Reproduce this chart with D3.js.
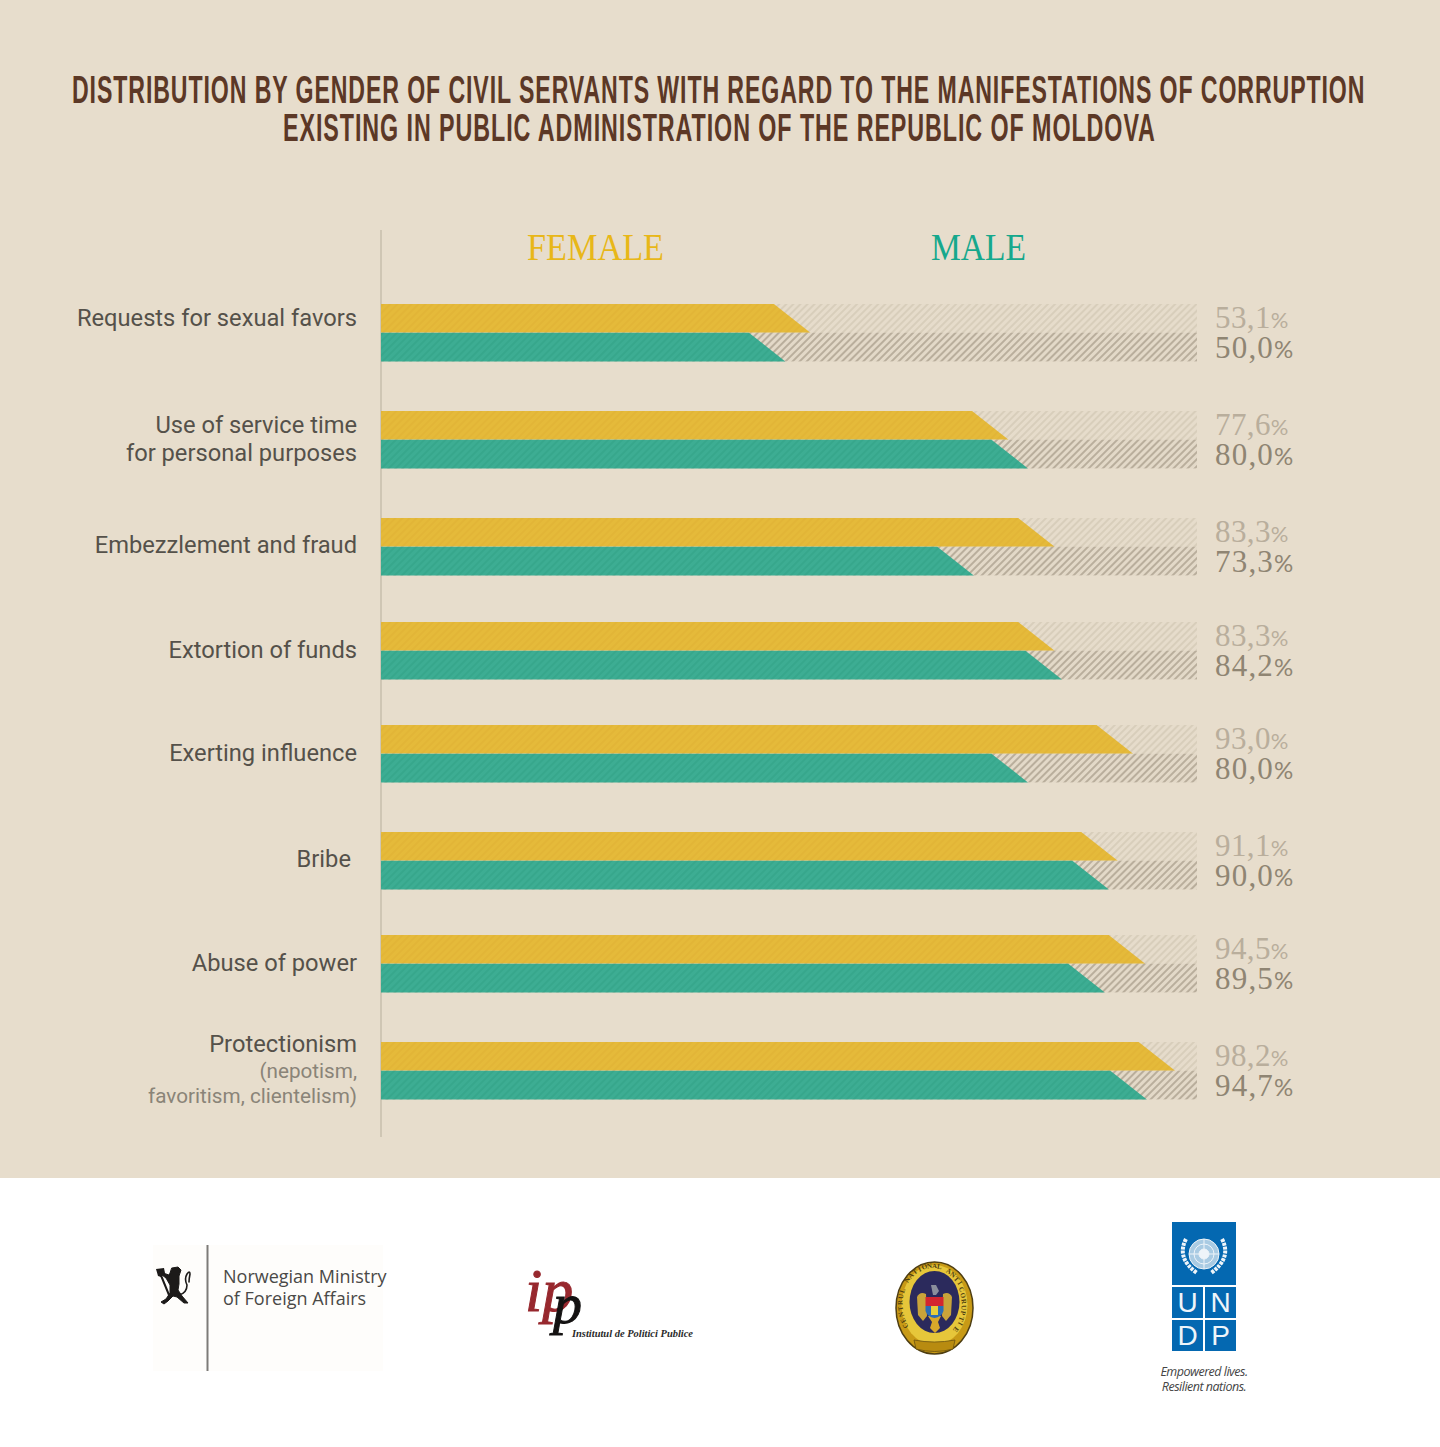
<!DOCTYPE html>
<html>
<head>
<meta charset="utf-8">
<script src="https://cdn.jsdelivr.net/npm/d3@7"></script>
<style>
  html, body { margin: 0; padding: 0; background: #fff; }
  svg { display: block; }
</style>
</head>
<body>
<div id="chart"></div>
<script>
// Chart values
const categories = ['Requests for sexual favors', 'Use of service time for personal purposes', 'Embezzlement and fraud', 'Extortion of funds', 'Exerting influence', 'Bribe', 'Abuse of power', 'Protectionism'];
const femaleValues = [53.1, 77.6, 83.3, 83.3, 93.0, 91.1, 94.5, 98.2];
const maleValues = [50.0, 80.0, 73.3, 84.2, 80.0, 90.0, 89.5, 94.7];
const seriesNames = ['FEMALE', 'MALE'];
const titleLines = [
    'DISTRIBUTION BY GENDER OF CIVIL SERVANTS WITH REGARD TO THE MANIFESTATIONS OF CORRUPTION',
    'EXISTING IN PUBLIC ADMINISTRATION OF THE REPUBLIC OF MOLDOVA'
];
const labelLines = [
    ['Requests for sexual favors'],
    ['Use of service time', 'for personal purposes'],
    ['Embezzlement and fraud'],
    ['Extortion of funds'],
    ['Exerting influence'],
    ['Bribe'],
    ['Abuse of power'],
    ['Protectionism']
];
const subLabelLines = ['(nepotism,', 'favoritism, clientelism)'];

const width = 1440, height = 1447;
const barH = 28.7;
const slant = 36.5;
const gold = '#e5ba3a', teal = '#3dad93', beige = '#e7ddcc';

const svg = d3.select('#chart').append('svg').attr('width', width).attr('height', height);

// Stripe patterns for bars and the empty tracks
const defs = svg.append('defs');
const addStripes = (id, base, stripe, w) => {
    const p = defs.append('pattern')
        .attr('id', id)
        .attr('patternUnits', 'userSpaceOnUse')
        .attr('width', 5).attr('height', 5)
        .attr('patternTransform', 'rotate(45)');
    p.append('rect').attr('width', 5).attr('height', 5).attr('fill', base);
    p.append('rect').attr('width', w).attr('height', 5).attr('fill', stripe);
};
addStripes('goldStripes', gold, '#e2b537', 2);
addStripes('tealStripes', teal, '#37a78c', 2);
addStripes('trackLight', '#e6dccb', '#d8cebb', 2);
addStripes('trackDark', '#e3d9c8', '#b9ae9c', 2);

svg.append('rect').attr('width', width).attr('height', 1178).attr('fill', beige);

// Scales
const xScale = d3.scaleLinear().domain([0, 100.9]).range([381, 1197]);
const yScale = d3.scaleOrdinal()
    .domain(categories)
    .range([304, 411, 518, 622, 725, 832, 935, 1042]);

// Title: squeeze horizontally to the measured width of each line
svg.selectAll('.title')
    .data(titleLines)
    .enter()
    .append('text')
    .attr('class', 'title')
    .style('font-family', '"Liberation Sans Narrow", "Liberation Sans", sans-serif')
    .style('font-weight', '700')
    .style('font-size', '38px')
    .style('letter-spacing', '1.5px')
    .style('fill', '#5c3826')
    .text(d => d)
    .attr('transform', function(d, i) {
        const target = i === 0 ? 1294 : 873;
        const left = i === 0 ? 72 : 283;
        return `translate(${left},${102.5 + i * 38}) scale(${target / this.getComputedTextLength()},1)`;
    });

// Axis line
svg.append('line')
    .attr('x1', 381).attr('x2', 381)
    .attr('y1', 230).attr('y2', 1137)
    .attr('stroke', '#cfc6b4')
    .attr('stroke-width', 2);

// Legend
svg.selectAll('.legend')
    .data(seriesNames)
    .enter()
    .append('text')
    .attr('class', 'legend')
    .attr('x', (d, i) => [527, 931][i])
    .attr('y', 260)
    .attr('textLength', (d, i) => [137, 95][i])
    .attr('lengthAdjust', 'spacingAndGlyphs')
    .style('font-family', '"Liberation Serif", serif')
    .style('font-size', '37px')
    .style('fill', (d, i) => ['#e8b718', '#16a88c'][i])
    .text(d => d);

// Rows
const series = [
    { values: femaleValues, fill: 'url(#goldStripes)', track: 'url(#trackLight)', offset: 0, text: '#b9ae9c', base: 24, spacing: '0.4px', pct: '22px' },
    { values: maleValues, fill: 'url(#tealStripes)', track: 'url(#trackDark)', offset: barH, text: '#8f8573', base: 54, spacing: '1.2px', pct: '24px' }
];

series.forEach(s => {
    const g = svg.append('g');

    g.selectAll('.track')
        .data(categories)
        .enter()
        .append('rect')
        .attr('class', 'track')
        .attr('x', xScale(0))
        .attr('y', d => yScale(d) + s.offset)
        .attr('width', xScale.range()[1] - xScale(0))
        .attr('height', barH)
        .attr('fill', s.track);

    // Bars end in a slant, the value sits at the bottom tip
    g.selectAll('.bar')
        .data(categories)
        .enter()
        .append('path')
        .attr('class', 'bar')
        .attr('fill', s.fill)
        .attr('d', (d, i) => {
            const y0 = yScale(d) + s.offset;
            const tip = xScale(s.values[i]);
            return `M${xScale(0)},${y0}H${tip - slant}L${tip},${y0 + barH}H${xScale(0)}Z`;
        });

    const labels = g.selectAll('.value')
        .data(categories)
        .enter()
        .append('text')
        .attr('class', 'value')
        .attr('x', 1215)
        .attr('y', d => yScale(d) + s.base)
        .style('font-family', '"Liberation Serif", serif')
        .style('font-size', '31px')
        .style('letter-spacing', s.spacing)
        .style('fill', s.text);

    labels.append('tspan')
        .text((d, i) => s.values[i].toFixed(1).replace('.', ','));
    labels.append('tspan')
        .style('font-size', s.pct)
        .style('font-family', '"Lato", sans-serif')
        .text('%');
});

// Category labels
const labelBaseline = [326, 433, 553, 658, 761, 867, 971, 1052];
categories.forEach((c, i) => {
    labelLines[i].forEach((line, j) => {
        svg.append('text')
            .attr('x', c === 'Bribe' ? 351 : 357)
            .attr('y', labelBaseline[i] + j * 28)
            .attr('text-anchor', 'end')
            .style('font-family', 'Roboto, sans-serif')
            .style('font-size', '23.7px')
            .style('fill', '#55514a')
            .text(line);
    });
});
subLabelLines.forEach((line, j) => {
    svg.append('text')
        .attr('x', 357)
        .attr('y', 1078 + j * 25)
        .attr('text-anchor', 'end')
        .style('font-family', 'Roboto, sans-serif')
        .style('font-size', '20.7px')
        .style('fill', '#8a8478')
        .text(line);
});

// Logos along the bottom, drawn by hand
const logos = svg.append('g');

// Norway
logos.append('rect').attr('x', 153).attr('y', 1245).attr('width', 230).attr('height', 126).attr('fill', '#fefdfb');
logos.append('line').attr('x1', 207.5).attr('x2', 207.5).attr('y1', 1245).attr('y2', 1371).attr('stroke', '#7d7b78').attr('stroke-width', 2);
const lion = logos.append('g').attr('fill', 'none').attr('stroke', '#1c1a19').attr('stroke-linecap', 'round');
lion.append('path').attr('stroke-width', 2).attr('d', 'M160,1273L169,1295');
lion.append('path').attr('fill', '#1c1a19').attr('stroke', 'none').attr('d', 'M156,1269l8,-1l1,5l-4,4l-3,-1z');
lion.append('path').attr('fill', '#1c1a19').attr('stroke-width', 1).attr('d', 'M172,1268l6,-1l3,3l-2,6l0,8l-1,6l4,6l6,7l-4,0l-7,-6l-4,-1l-5,5l-4,3l-3,-2l5,-3l4,-6l0,-8l-4,-7l-4,-3l1,-2l6,2z');
lion.append('path').attr('stroke-width', 1.6).attr('d', 'M179,1295q8,-2 8,-10q-3,-6 0,-11q3,-4 3,0q-1,5 -1,8');

['Norwegian Ministry', 'of Foreign Affairs'].forEach((t, i) => {
    logos.append('text')
        .attr('x', 223).attr('y', 1283 + i * 22)
        .style('font-family', '"Open Sans", sans-serif')
        .style('font-size', '18px')
        .style('fill', '#4a4947')
        .text(t);
});

// IPP
logos.append('text').attr('x', 525).attr('y', 1311)
    .attr('stroke', '#97282e').attr('stroke-width', 1)
    .style('font-family', '"Liberation Serif", serif').style('font-style', 'italic')
    .style('font-size', '62px').style('fill', '#97282e').text('ip');
logos.append('text').attr('x', 553).attr('y', 1323)
    .attr('stroke', '#141212').attr('stroke-width', 1)
    .style('font-family', '"Liberation Serif", serif').style('font-style', 'italic')
    .style('font-size', '58px').style('fill', '#141212').text('p');
logos.append('text').attr('x', 572).attr('y', 1337)
    .attr('textLength', 121).attr('lengthAdjust', 'spacingAndGlyphs')
    .style('font-family', '"Liberation Serif", serif').style('font-style', 'italic').style('font-weight', '700')
    .style('font-size', '10px').style('fill', '#2a2a2a').text('Institutul de Politici Publice');

// Seal
logos.append('ellipse').attr('cx', 934.5).attr('cy', 1308).attr('rx', 38.5).attr('ry', 46).attr('fill', '#c89a16').attr('stroke', '#4e3e12').attr('stroke-width', 1.5);
logos.append('ellipse').attr('cx', 934.5).attr('cy', 1305).attr('rx', 33).attr('ry', 40).attr('fill', '#e6c63a');
logos.append('ellipse').attr('cx', 934.5).attr('cy', 1302).attr('rx', 25).attr('ry', 31).attr('fill', '#2b2a5c');
const sealText = 'CENTRUL\u00a0NATIONAL\u00a0ANTICORUPTIE';
const sealAngles = Array.from(sealText, (c, i) => -128 + i * 256 / (sealText.length - 1));
logos.append('text')
    .attr('x', sealAngles.map(a => (934.5 + 29.5 * Math.sin(a * Math.PI / 180)).toFixed(1)).join(' '))
    .attr('y', sealAngles.map(a => (1304 - 36 * Math.cos(a * Math.PI / 180)).toFixed(1)).join(' '))
    .attr('rotate', sealAngles.map(a => a.toFixed(0)).join(' '))
    .attr('text-anchor', 'middle')
    .style('font-family', '"Liberation Serif", serif').style('font-size', '7px').style('font-weight', '700')
    .style('fill', '#4d3d10')
    .text(sealText);
// eagle and shield
logos.append('path').attr('fill', '#c9a43a').attr('d', 'M917,1297q3,-6 9,-3l1,22l-4,5l-5,-6z');
logos.append('path').attr('fill', '#c9a43a').attr('d', 'M952,1297q-3,-6 -9,-3l-1,22l4,5l5,-6z');
logos.append('path').attr('fill', '#8b8f9c').attr('d', 'M931,1285l5,0l3,6l-3,4l-3,0z');
logos.append('path').attr('fill', '#d8a82a').attr('d', 'M928,1316h13l-3,6l2,6l-5,5l-5,-5l2,-6z');
logos.append('rect').attr('x', 925.5).attr('y', 1297).attr('width', 18).attr('height', 9).attr('fill', '#d32630');
logos.append('path').attr('fill', '#2b6db5').attr('d', 'M925.5,1306h18v5q-2,6 -9,7q-7,-1 -9,-7z');
logos.append('rect').attr('x', 931).attr('y', 1306).attr('width', 7).attr('height', 9).attr('fill', '#e8cf3a');
logos.append('path').attr('fill', '#b88b10').attr('stroke', '#6a5210').attr('stroke-width', 0.8).attr('d', 'M914,1340q20,4 41,0l-2,9q-18,5 -37,0z');

// UNDP
const undpBlue = '#0468b1';
logos.append('rect').attr('x', 1172).attr('y', 1222).attr('width', 64).attr('height', 63).attr('fill', undpBlue);
[['U', 1172, 1287], ['N', 1205, 1287], ['D', 1172, 1320], ['P', 1205, 1320]].forEach(([t, x, y]) => {
    logos.append('rect').attr('x', x).attr('y', y).attr('width', 31).attr('height', 31).attr('fill', undpBlue);
    logos.append('text').attr('x', x + 15.5).attr('y', y + 25).attr('text-anchor', 'middle')
        .style('font-family', '"Liberation Sans", sans-serif').style('font-size', '28px').style('fill', '#eef5fa').text(t);
});
const emblem = logos.append('g').attr('fill', 'none').attr('stroke', '#eef4f9');
emblem.append('circle').attr('cx', 1204).attr('cy', 1254).attr('r', 15).attr('fill', '#a9cbe3').attr('stroke-width', 1);
emblem.append('circle').attr('cx', 1204).attr('cy', 1254).attr('r', 10).attr('stroke-width', 1);
emblem.append('circle').attr('cx', 1204).attr('cy', 1254).attr('r', 5).attr('fill', '#eef4f9').attr('stroke-width', 1);
emblem.append('path').attr('stroke-width', 1).attr('d', 'M1189,1254H1219M1204,1239V1269');
emblem.append('path').attr('stroke-width', 4).attr('stroke-dasharray', '3 1').attr('d', 'M1186,1239Q1176,1258 1197,1273M1222,1239Q1232,1258 1211,1273');
['Empowered lives.', 'Resilient nations.'].forEach((t, i) => {
    logos.append('text').attr('x', 1204).attr('y', 1376 + i * 15).attr('text-anchor', 'middle')
        .style('font-family', '"Open Sans", sans-serif').style('font-style', 'italic')
        .style('font-size', '12.5px').style('letter-spacing', '-0.5px').style('fill', '#444').text(t);
});
</script>
</body>
</html>
